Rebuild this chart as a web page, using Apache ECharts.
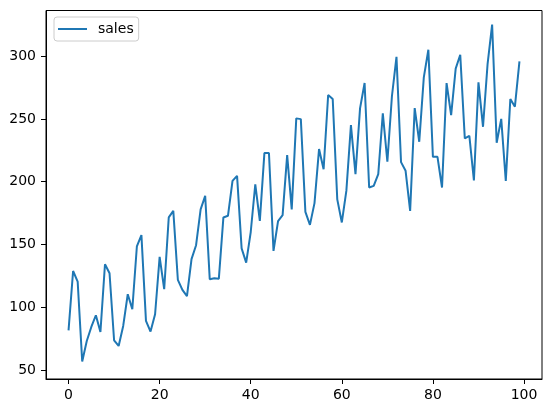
<!DOCTYPE html>
<html>
<head>
<meta charset="utf-8">
<script src="https://cdn.jsdelivr.net/npm/echarts@6/dist/echarts.min.js"></script>
<style>
html,body{margin:0;padding:0;background:#fff;}
#chart{width:552px;height:413px;}
</style>
</head>
<body>
<div id="chart"></div>
<script>
var seriesName = 'sales';
var sales = [
  81.8, 129, 120.6, 57, 73.3, 84.5, 93.8, 80.5, 134.4, 127.2,
  73.9, 69.4, 85.3, 110.5, 98.6, 148.5, 157.5, 89.3, 80.8, 94.6,
  140.2, 114.5, 171.6, 176.8, 122, 114, 109, 138.4, 149.5, 178,
  188.8, 122.5, 123.2, 122.9, 171.6, 172.9, 200.7, 204.7, 147, 135.7,
  160, 198, 168.9, 222.8, 222.8, 145, 168.7, 173.4, 221.2, 178,
  250.4, 249.8, 176, 165.7, 183, 226, 210, 269, 265.8, 186,
  167.6, 192.9, 245, 206, 258.3, 278.5, 195.4, 196.7, 206, 254.4,
  215.9, 268, 299.4, 215.6, 208.7, 176.8, 258.6, 231.8, 283, 305,
  219.8, 219.8, 195.4, 278.5, 253, 290, 301, 234.5, 236.5, 201,
  279, 243.7, 293.6, 325, 231, 250, 200.7, 265.8, 259.7, 295.8
];
var xTicks = [0, 20, 40, 60, 80, 100];
var yTicks = [50, 100, 150, 200, 250, 300];

var points = sales.map(function (v, i) { return [i, v]; });

var chart = echarts.init(document.getElementById('chart'), null, {renderer: 'canvas'});
var font = 'DejaVu Sans';
chart.setOption({
  animation: false,
  backgroundColor: '#fff',
  grid: {
    left: 46, right: 10, top: 10.5, bottom: 34,
    show: true, borderColor: '#000', borderWidth: 1, backgroundColor: 'transparent'
  },
  legend: {
    left: 54, top: 17,
    padding: [5, 5, 5, 4],
    backgroundColor: 'rgba(255,255,255,0.8)',
    borderColor: '#cccccc', borderWidth: 1, borderRadius: 3,
    icon: 'rect', itemWidth: 29, itemHeight: 2,
    textStyle: {fontFamily: font, fontSize: 14, color: '#000', padding: [0, 0, 0, 6]},
    data: [seriesName]
  },
  xAxis: {
    type: 'value', min: -4.95, max: 103.95,
    splitLine: {show: false},
    axisLine: {show: true, onZero: false, lineStyle: {color: '#000', width: 1}},
    axisTick: {show: true, length: 5, customValues: xTicks, lineStyle: {color: '#000', width: 1}},
    axisLabel: {customValues: xTicks, color: '#000', fontSize: 14, fontFamily: font, margin: 9.5}
  },
  yAxis: {
    type: 'value', min: 43.1, max: 336.2,
    splitLine: {show: false},
    axisLine: {show: true, onZero: false, lineStyle: {color: '#000', width: 1}},
    axisTick: {show: true, length: 5, customValues: yTicks, lineStyle: {color: '#000', width: 1}},
    axisLabel: {customValues: yTicks, color: '#000', fontSize: 14, fontFamily: font, margin: 10}
  },
  series: [{
    name: seriesName,
    type: 'line',
    data: points,
    showSymbol: false,
    symbol: 'none',
    lineStyle: {color: '#1f77b4', width: 2},
    itemStyle: {color: '#1f77b4'}
  }]
});
</script>
</body>
</html>
